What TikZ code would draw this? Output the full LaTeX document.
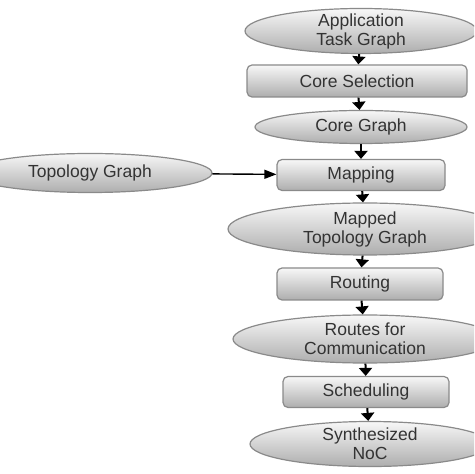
\documentclass[tikz,border=0pt]{standalone}
\usepackage{fontspec}
\setmainfont{Liberation Sans}
\usepackage{xcolor}
\usetikzlibrary{shapes.geometric,arrows.meta}

\definecolor{txtgray}{HTML}{333333}
\definecolor{linegray}{HTML}{8A8A8A}

\tikzset{
	flow/.style={draw=linegray, line width=0.6pt, top color=black!3, bottom color=black!32,
		inner sep=0pt, font=\fontsize{8.75}{9.5}\selectfont, text=txtgray},
	ell/.style={flow, ellipse},
	stepbox/.style={flow, rectangle, rounded corners=2.5pt},
	every label/.style={align=center, font=\fontsize{8.75}{9.5}\selectfont, text=txtgray}
}

\begin{document}
\begin{tikzpicture}[x=1pt,y=1pt]
		\useasboundingbox (0,0) rectangle (237,-237);
		\clip (0,0) rectangle (237,-237);
		\node[ell, minimum width=116pt, minimum height=22.5pt, label=center:{Application\\Task Graph}] (app) at (180.5,-15.5) {};
		\node[stepbox, minimum width=110pt, minimum height=16pt] (sel) at (178.5,-40.5) {Core Selection};
		\node[ell, minimum width=106pt, minimum height=16.5pt] (cg) at (180.5,-63.5) {Core Graph};
		\node[stepbox, minimum width=84pt, minimum height=15.5pt] (map) at (180.5,-87.5) {Mapping};
		\node[ell, minimum width=122pt, minimum height=19.5pt] (topo) at (45,-86.5) {Topology Graph};
		\node[ell, minimum width=137pt, minimum height=26pt, label=center:{Mapped\\Topology Graph}] (mtg) at (182.5,-114.5) {};
		\node[stepbox, minimum width=83pt, minimum height=16pt] (rout) at (180,-142) {Routing};
		\node[ell, minimum width=132pt, minimum height=24pt, label=center:{Routes for\\Communication}] (rfc) at (182.5,-169.5) {};
		\node[stepbox, minimum width=83pt, minimum height=15.5pt] (sched) at (183,-196) {Scheduling};
		\node[ell, minimum width=120pt, minimum height=22.5pt, label=center:{Synthesized\\NoC}] (noc) at (185,-222) {};
		%
		\path[->, >={Triangle[length=4pt,width=6.5pt]}, line width=1pt]
		(app) edge (sel)
		(sel) edge (cg)
		(cg) edge (map)
		(map) edge (mtg)
		(mtg) edge (rout)
		(rout) edge (rfc)
		(rfc) edge (sched)
		(sched) edge (noc);
		\path[->, >={Triangle[length=6pt,width=4.5pt]}, line width=0.7pt]
		(topo) edge (map);
	\end{tikzpicture}
\end{document}
